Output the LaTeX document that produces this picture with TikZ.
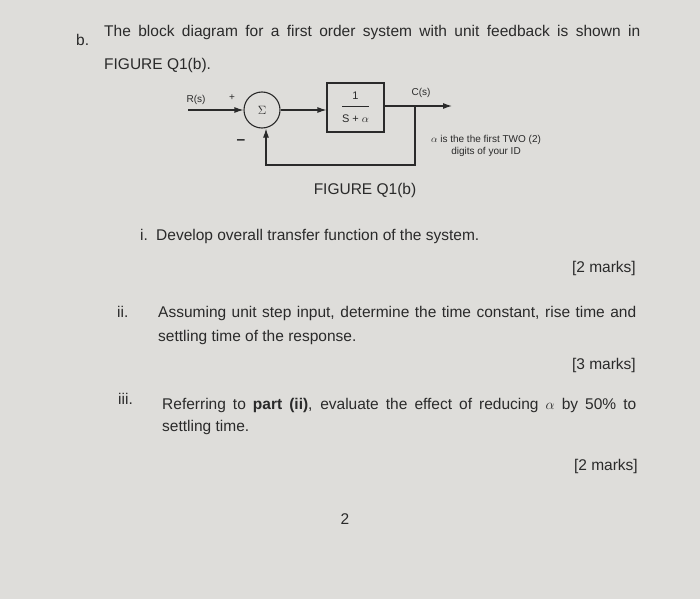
\documentclass[tikz,border=0pt]{standalone}
\usepackage{fontspec}
\setmainfont{Liberation Sans}
\usetikzlibrary{arrows.meta}
\definecolor{paper}{HTML}{DEDDDA}
\definecolor{ink}{HTML}{2A2A2A}
\tikzset{
  txt/.style={inner sep=0pt,text=ink,font=\fontsize{15.5}{18}\selectfont},
  sml/.style={inner sep=0pt,text=ink,font=\fontsize{10}{12}\selectfont},
  wire/.style={draw=ink,line width=1.1pt},
  arr/.style={wire,-{Latex[length=9pt,width=6pt]}},
}
\begin{document}
\begin{tikzpicture}[x=1pt,y=-1pt]
\fill[paper] (0,0) rectangle (700,599);
\useasboundingbox (0,0) rectangle (700,599);
\node[txt,anchor=west] (b) at (76,40) {b.};
\node[txt,anchor=west] (l1) at (104,32) {\makebox[536pt][s]{The block diagram for a first order system with unit feedback is shown in}};
\node[txt,anchor=west] (l2) at (104,65) {FIGURE Q1(b).};
% diagram
\node[circle,draw=ink,line width=1.1pt,minimum size=36pt,inner sep=0pt,text=ink,font=\large] (sum) at (262,110) {$\Sigma$};
\node[draw=ink,line width=1.1pt,minimum width=57pt,minimum height=49pt,inner sep=0pt] (g) at (355.5,107.5) {};
\node[sml,font=\fontsize{11}{13}\selectfont] (num) at (355.5,96) {1};
\draw[draw=ink,line width=0.5pt] (342,106) -- (369,106);
\node[sml,font=\fontsize{11}{13}\selectfont] (den) at (355.5,119) {S + $\alpha$};
\coordinate (rin) at (188,110);
\coordinate (cout) at (452,106);
\coordinate (br) at (415,106);
\coordinate (fb1) at (415,165);
\coordinate (fb2) at (266,165);
\draw[arr] (rin) -- (sum.west);
\draw[arr] (sum.east) -- (g.west |- sum.east);
\draw[arr] (g.east |- cout) -- (cout);
\draw[arr] (br) -- (fb1) -- (fb2) -- (sum.south -| fb2);
\node[sml] (r) at (196,100) {R(s)};
\node[sml] (p) at (232,98) {+};
\node[sml] (c) at (421,93) {C(s)};
\node[txt] (m) at (241,142) {\textbf{–}};
\node[sml,align=center] (a) at (486,146) {$\alpha$ is the the first TWO (2)\\digits of your ID};
\node[txt] (cap) at (365,190) {FIGURE Q1(b)};
% questions
\node[txt,anchor=west] (i) at (140,235) {i.};
\node[txt,anchor=west] (q1) at (156,236) {Develop overall transfer function of the system.};
\node[txt,anchor=east] (m1) at (636,268) {[2 marks]};
\node[txt,anchor=west] (ii) at (117,312) {ii.};
\node[txt,anchor=west] (q2) at (158,313) {\makebox[478pt][s]{Assuming unit step input, determine the time constant, rise time and}};
\node[txt,anchor=west] (q2b) at (158,337) {settling time of the response.};
\node[txt,anchor=east] (m2) at (636,365) {[3 marks]};
\node[txt,anchor=west] (iii) at (118,399) {iii.};
\node[txt,anchor=west] (q3) at (162,405) {\makebox[474pt][s]{Referring to \textbf{part (ii)}, evaluate the effect of reducing $\alpha$ by 50\% to}};
\node[txt,anchor=west] (q3b) at (162,427) {settling time.};
\node[txt,anchor=east] (m3) at (638,466) {[2 marks]};
\node[txt] (pg) at (345,519) {2};
\end{tikzpicture}
\end{document}
